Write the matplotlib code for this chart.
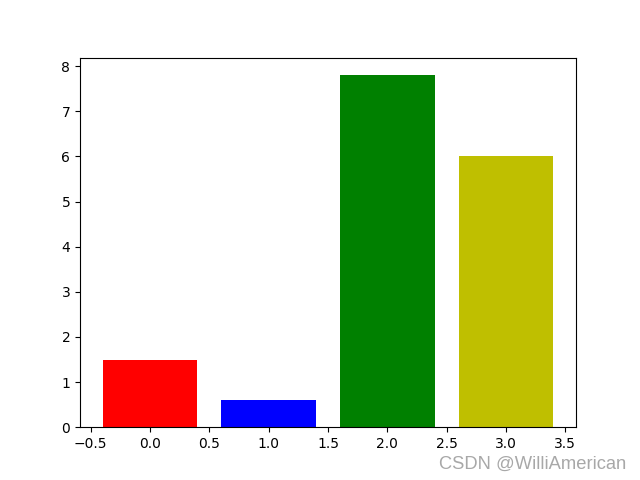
import matplotlib
matplotlib.use("Agg")
import matplotlib.pyplot as plt

# bar data
x = [0, 1, 2, 3]
heights = [1.5, 0.6, 7.8, 6.0]
colors = ["r", "b", "g", "y"]

fig, ax = plt.subplots(figsize=(6.4, 4.8), dpi=100)
ax.bar(x, heights, color=colors)

# watermark
fig.text(0.978, 0.032, "CSDN @WilliAmerican", ha="right", va="center",
         fontsize=13.2, color="#a8a8a8", family="Liberation Sans")

plt.savefig("out.png")
